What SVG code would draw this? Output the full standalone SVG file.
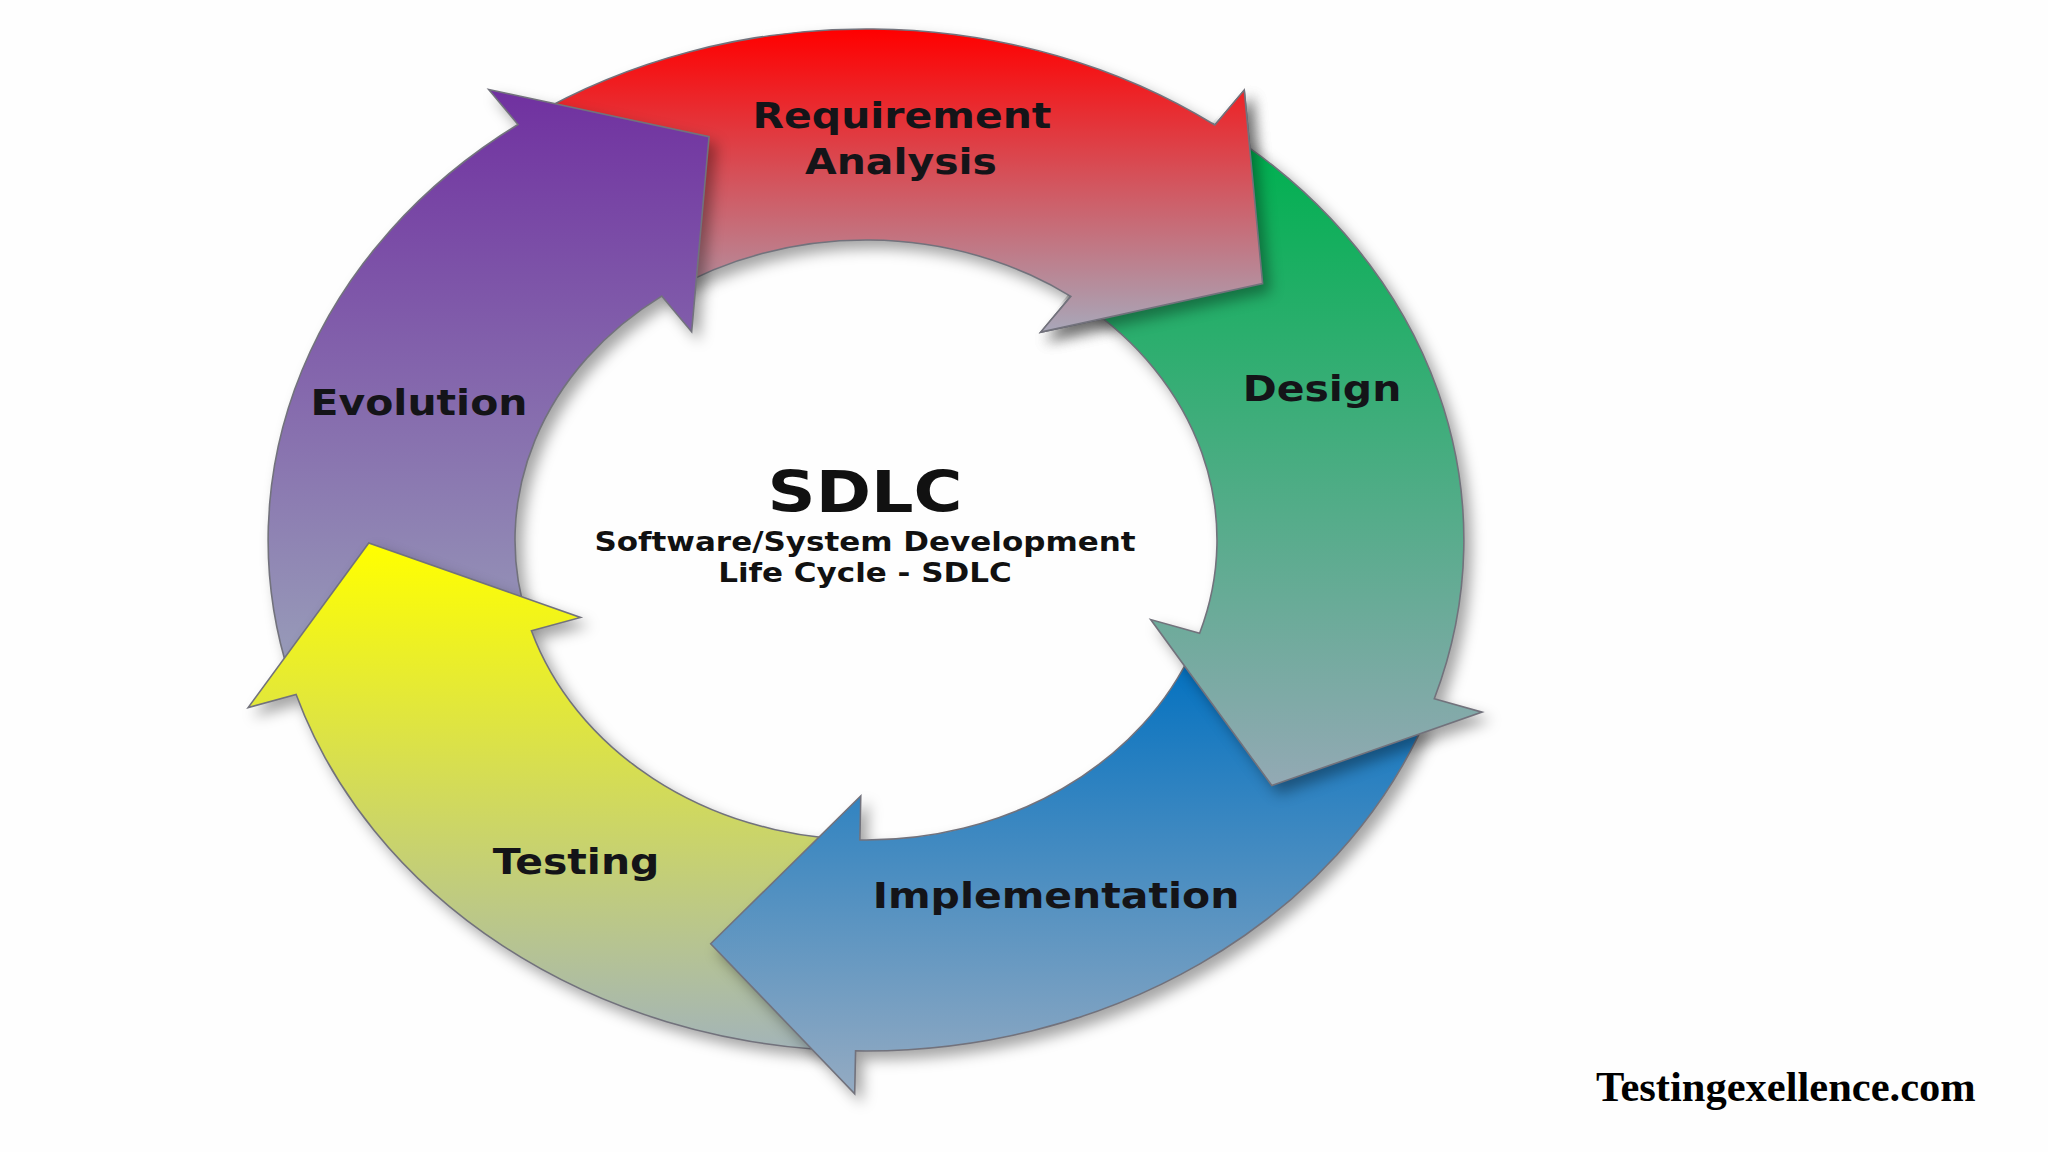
<svg xmlns="http://www.w3.org/2000/svg" width="2048" height="1152" viewBox="0 0 2048 1152">
<defs>
<style>
.lbl{font-family:"DejaVu Sans",Verdana,sans-serif;font-weight:bold;font-size:35px;fill:#141418;text-anchor:middle}
.title{font-family:"DejaVu Sans",Verdana,sans-serif;font-weight:bold;fill:#111;text-anchor:middle}
.arrow{stroke:#72727c;stroke-width:1.6;stroke-linejoin:miter;vector-effect:non-scaling-stroke}
.mark{font-family:"Liberation Serif","Times New Roman",serif;font-weight:bold;font-size:42.5px;fill:#000}
</style>
<filter id="shadow" x="-15%" y="-15%" width="135%" height="135%" color-interpolation-filters="sRGB">
<feDropShadow dx="7" dy="8" stdDeviation="7" flood-color="#000" flood-opacity="0.35"/>
</filter>
<path id="arrowShape" class="arrow" d="M174.77,-480.18 A511,511 0 0 1 511,0 L554,0 L406,125.68 L256,0 L300,0 A300,300 0 0 0 102.61,-281.91 Z"/>
<linearGradient id="gRed" gradientUnits="userSpaceOnUse" x1="0" y1="-510" x2="0" y2="-205" gradientTransform="rotate(54.3)">
<stop offset="0" stop-color="#ff0000"/><stop offset="1" stop-color="#a7a9bb"/>
</linearGradient>
<linearGradient id="gGreen" gradientUnits="userSpaceOnUse" x1="0" y1="-390" x2="0" y2="250" gradientTransform="rotate(-18.1)">
<stop offset="0" stop-color="#00b050"/><stop offset="1" stop-color="#94a9b5"/>
</linearGradient>
<linearGradient id="gBlue" gradientUnits="userSpaceOnUse" x1="0" y1="110" x2="0" y2="555" gradientTransform="rotate(-91)">
<stop offset="0" stop-color="#0070c0"/><stop offset="1" stop-color="#95abc2"/>
</linearGradient>
<linearGradient id="gYellow" gradientUnits="userSpaceOnUse" x1="0" y1="6" x2="0" y2="510" gradientTransform="rotate(-162.4)">
<stop offset="0" stop-color="#ffff00"/><stop offset="1" stop-color="#a3b4b8"/>
</linearGradient>
<linearGradient id="gPurple" gradientUnits="userSpaceOnUse" x1="0" y1="-453" x2="0" y2="160" gradientTransform="rotate(125.6)">
<stop offset="0" stop-color="#7030a0"/><stop offset="1" stop-color="#9aa2ba"/>
</linearGradient>
<clipPath id="redHeadClip"><polygon points="1338,-27 942,445 1133,606 1530,134"/></clipPath>
</defs>
<rect width="2048" height="1152" fill="#fefefe"/>
<g id="cycle">
<g id="stage-requirement-analysis">
<g filter="url(#shadow)"><use href="#arrowShape" fill="url(#gRed)" transform="translate(866 540) scale(1.17 1) rotate(-54.3)"/></g>
<text class="lbl" transform="translate(902 128) scale(1.17 1)">Requirement</text>
<text class="lbl" transform="translate(901 174) scale(1.17 1)">Analysis</text>
</g>
<g id="stage-evolution">
<g filter="url(#shadow)"><use href="#arrowShape" fill="url(#gPurple)" transform="translate(866 540) scale(1.17 1) rotate(-125.6)"/></g>
<text class="lbl" transform="translate(419 415) scale(1.17 1)">Evolution</text>
</g>
<g id="stage-testing">
<g filter="url(#shadow)"><use href="#arrowShape" fill="url(#gYellow)" transform="translate(866 540) scale(1.17 1) rotate(162.4)"/></g>
<text class="lbl" transform="translate(576 874) scale(1.17 1)">Testing</text>
</g>
<g id="stage-implementation">
<g filter="url(#shadow)"><use href="#arrowShape" fill="url(#gBlue)" transform="translate(866 540) scale(1.17 1) rotate(91)"/></g>
<text class="lbl" transform="translate(1056 908) scale(1.17 1)">Implementation</text>
</g>
<g id="stage-design">
<g filter="url(#shadow)"><use href="#arrowShape" fill="url(#gGreen)" transform="translate(866 540) scale(1.17 1) rotate(18.1)"/></g>
<text class="lbl" transform="translate(1322 401) scale(1.17 1)">Design</text>
</g>
<g id="stage-requirement-head" clip-path="url(#redHeadClip)">
<g filter="url(#shadow)"><use href="#arrowShape" fill="url(#gRed)" transform="translate(866 540) scale(1.17 1) rotate(-54.3)"/></g>
</g>
</g>
<g id="center-title">
<text class="title" font-size="57" transform="translate(865 512) scale(1.17 1)">SDLC</text>
<text class="title" font-size="26.5" transform="translate(865 551) scale(1.17 1)">Software/System Development</text>
<text class="title" font-size="26.5" transform="translate(865 582) scale(1.17 1)">Life Cycle - SDLC</text>
</g>
<g id="watermark">
<text class="mark" x="1596" y="1101">Testingexellence.com</text>
</g>
</svg>
